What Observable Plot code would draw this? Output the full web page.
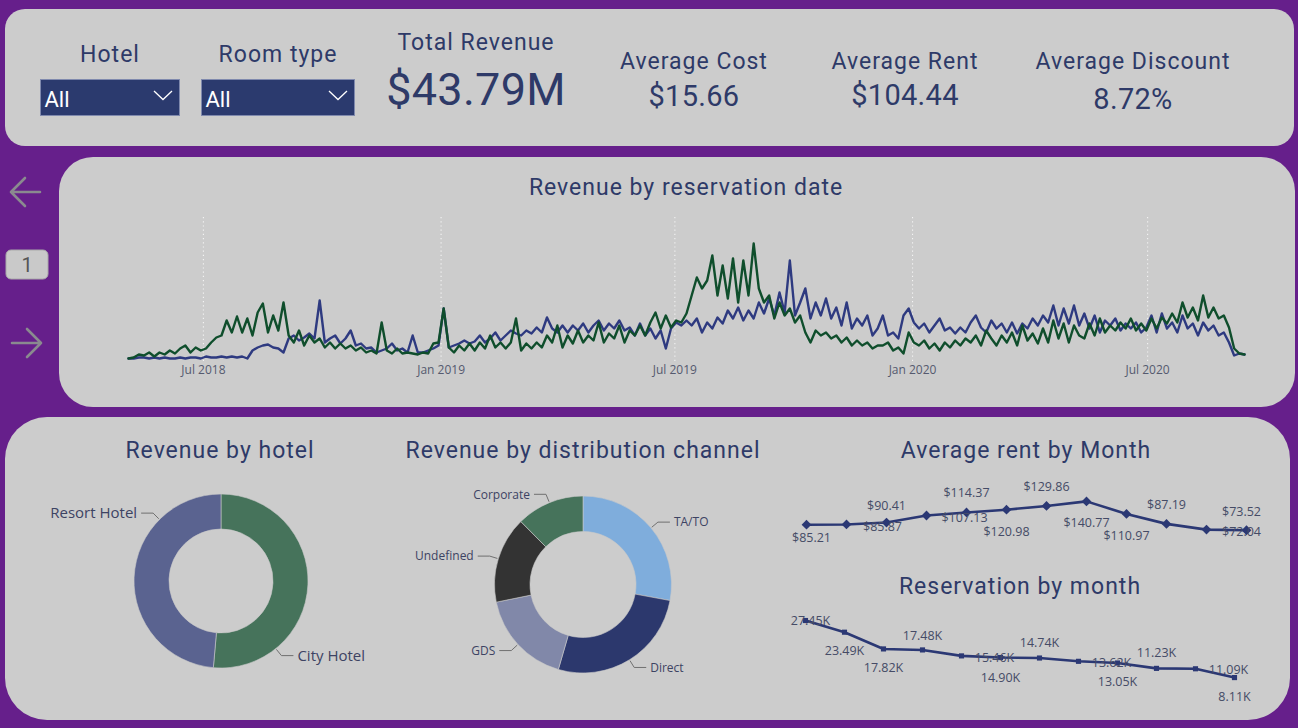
<!DOCTYPE html>
<html><head><meta charset="utf-8">
<script src="https://cdn.jsdelivr.net/npm/d3@7"></script>
<script src="https://cdn.jsdelivr.net/npm/@observablehq/plot@0.6"></script>
<style>
html,body{margin:0;padding:0;background:#661f8b;width:1298px;height:728px;overflow:hidden;font-family:Roboto,"Noto Sans",sans-serif;}
#root{position:relative;width:1298px;height:728px;}
#root svg{overflow:visible;}
</style></head>
<body><div id="root"></div>
<script>
// ================= DATA =================
const slicerNames = ["Hotel", "Room type"];
const slicerSelections = ["All", "All"];
const kpiNames = ["Total Revenue", "Average Cost", "Average Rent", "Average Discount"];
const kpiValues = ["$43.79M", "$15.66", "$104.44", "8.72%"];

const chartTitles = ["Revenue by reservation date", "Revenue by hotel", "Revenue by distribution channel", "Average rent by Month", "Reservation by month"];

// daily revenue (K$), sampled every 4 days from 2018-05-04
const seriesNames = ["Resort Hotel", "City Hotel"];
const seriesStart = "2018-05-04";
const seriesStepDays = 4;
const resortRevenueK = [
 4,4,5,5,4,5,4,5,4,4, 5,4,5,5,4,6,5,5,6,5, 6,5,6,4,12,15,17,18,15,14,
 10,24,27,22,25,29,24,62,20,24, 27,19,24,32,17,19,14,15,10,12, 14,19,12,14,10,27,10,10,12,14,
 17,54,15,17,19,22,19,21,27,20, 24,30,22,
 27,32,29,27,32,29,35,30,45,34, 30,37,30,37,32,39,30,37,42,32, 39,34,42,32,35,27,39,27,34,24,
 32,14,34,40,37,42,37,44,30,40, 34,45,39,52,44,55,42,52,44,60, 49,64,47,70,50,102,47,60,74,44,
 60,47,64,44,55,37,60,34,44,37, 47,27,34,
 47,27,30,24,47,54,40,34,39,30, 37,44,32,35,29,35,30,40,47,35, 30,42,34,39,30,40,29,39,34,44,
 37,47,40,57,37,54,39,57,37,49, 34,47,30,42,37,44,32,39,34,40, 30,35,47,30,49,34,40,30,47,34,
 39,27,40,32,37,27,30,20,7,9, 8
];
const cityRevenueK = [
 4,5,8,7,10,6,10,8,12,9, 14,17,10,15,12,14,20,25,27,42, 30,46,30,44,27,50,59,30,47,32,
 60,27,20,32,17,27,20,24,15,20, 14,19,14,17,12,15,10,12,9,40, 12,9,14,9,10,9,8,10,9,19,
 20,54,15,10,17,12,19,12,20,14, 27,15,20,
 14,20,44,12,19,14,20,15,27,20, 37,15,27,19,32,20,27,22,40,20, 29,24,37,20,32,27,37,27,40,50,
 34,47,35,42,40,49,67,85,74,82, 107,67,97,64,104,60,102,67,119,74, 60,67,44,60,47,54,40,47,30,20,
 32,27,30,24,27,20,25,17,22,17, 20,14,17,
 17,20,12,15,9,30,20,17,22,14, 19,12,20,15,22,17,24,20,27,17, 32,24,17,27,20,30,17,37,22,29,
 19,34,20,42,24,39,20,37,27,24, 39,27,44,30,37,32,40,34,44,32, 39,32,44,34,45,39,49,40,60,45,
 55,42,67,45,55,44,47,35,14,9, 8
];
const axisTickDates = ["2018-07-01", "2019-01-01", "2019-07-01", "2020-01-01", "2020-07-01"];
const axisTickLabels = ["Jul 2018", "Jan 2019", "Jul 2019", "Jan 2020", "Jul 2020"];

const hotelNames = ["City Hotel", "Resort Hotel"];
const hotelRevenueM = [22.51, 21.28];

const channelNames = ["TA/TO", "Direct", "GDS", "Undefined", "Corporate"];
const channelRevenueM = [12.22, 11.65, 7.58, 6.92, 5.43];

const months = ["Jan","Feb","Mar","Apr","May","Jun","Jul","Aug","Sep","Oct","Nov","Dec"];
const avgRent = [85.21, 85.87, 90.41, 107.13, 114.37, 120.98, 129.86, 140.77, 110.97, 87.19, 73.52, 72.04];
const reservationsK = [27.45, 23.49, 17.82, 17.48, 15.46, 14.90, 14.74, 13.62, 13.05, 11.23, 11.09, 8.11];

// ================= STYLE / LAYOUT =================
const C = {purple:"#661f8b", panel:"#cccccc", ink:"#2e3a68", label:"#454b66", axis:"#555a6f",
  navy:"#2b3874", resortLine:"#2e3a80", cityLine:"#0f4e2c"};
const hotelColors = ["#46735b", "#5a6390"];
const channelColors = ["#7faddc", "#2c386d", "#8188a9", "#333333", "#46735b"];
const hotelLabelAngles = [141, 315];
const rentLabelNudge = [[5,13],[36,3],[0,-17],[38,2],[0,-19],[0,22],[0,-19],[0,22],[0,22],[0,-19],[35,-18],[-5,2]];
const resLabelNudge  = [[5,0],[0,19],[0,19],[0,-14],[33,2],[0,20],[0,-15],[33,2],[0,19],[0,-15],[33,1],[0,19]];
const titleFont = "font-size:23px;letter-spacing:1px;color:"+C.ink+";";

const root = document.getElementById("root");
function box(x,y,w,h,css){const d=document.createElement("div");d.style.cssText=`position:absolute;left:${x}px;top:${y}px;width:${w}px;height:${h}px;box-sizing:border-box;${css||""}`;root.appendChild(d);return d;}
function label(text,cx,cy,css){const d=document.createElement("div");d.textContent=text;d.style.cssText=`position:absolute;left:${cx}px;top:${cy}px;transform:translate(-50%,-50%);white-space:nowrap;line-height:1;${css||""}`;root.appendChild(d);return d;}
function place(node,x,y){node.style.position="absolute";node.style.left=x+"px";node.style.top=y+"px";root.appendChild(node);return node;}

// panels
box(5,9,1289,137,`background:${C.panel};border-radius:20px;`);
box(59,157,1236,250,`background:${C.panel};border-radius:34px;`);
box(5,417,1285,303,`background:${C.panel};border-radius:42px;`);

// left navigation (decoration)
const nav = document.createElementNS("http://www.w3.org/2000/svg","svg");
nav.setAttribute("width","56");nav.setAttribute("height","200");
nav.innerHTML = `<g fill="none" stroke="#8a8a8f" stroke-width="2.6" stroke-linecap="round">
 <path d="M11 42 H40 M11 42 L25 28 M11 42 L25 56"/>
 <path d="M12 193 H41 M41 193 L27 179 M41 193 L27 207"/></g>
 <rect x="6" y="100" width="42" height="29" rx="5" fill="#c9c9c9" stroke="#a9a9a9"/>
 <text x="27" y="115" dy="0.35em" text-anchor="middle" font-size="20" fill="#555" font-family="Roboto">1</text>`;
place(nav,0,150);

// slicers
const slicerPos = [[110,40,180],[278,201,355]];
slicerNames.forEach((n,i)=>{
  const [cx,x0,x1] = slicerPos[i];
  label(n,cx,54,titleFont);
  box(x0,79,x1-x0,37,`background:#2b3a6e;border:1.5px solid #7f89ad;`);
  label(slicerSelections[i],x0+17,100,"font-size:22px;color:#fff;");
  const ch = document.createElementNS("http://www.w3.org/2000/svg","svg");
  ch.setAttribute("width","24");ch.setAttribute("height","14");
  ch.innerHTML = `<path d="M3 3 L12 11.5 L21 3" fill="none" stroke="#fff" stroke-width="1.3"/>`;
  place(ch,x1-29,88);
});

// KPIs
const kpiPos = [[476,42,89,"font-size:45px;"],[694,61,96,"font-size:29px;"],[905,61,95,"font-size:29px;"],[1133,61,99,"font-size:29px;"]];
kpiNames.forEach((n,i)=>{
  const [cx,ty,vy,vs] = kpiPos[i];
  label(n,cx,ty,titleFont);
  label(kpiValues[i],cx,vy,`color:${C.ink};letter-spacing:0.3px;${vs}`);
});

// titles
const titlePos = [[686,187],[220,450],[583,450],[1026,450],[1020,586]];
chartTitles.forEach((t,i)=>label(t,titlePos[i][0],titlePos[i][1],titleFont));

// ================= TIME SERIES =================
const start = d3.utcParse("%Y-%m-%d")(seriesStart);
const dates = cityRevenueK.map((_,i)=>d3.utcDay.offset(start, seriesStepDays*i));
const tsData = dates.flatMap((d,i)=>[
  {date:d, value:resortRevenueK[i], hotel:seriesNames[0]},
  {date:d, value:cityRevenueK[i], hotel:seriesNames[1]}]);
const ticks = axisTickDates.map(d3.utcParse("%Y-%m-%d"));
const tickText = new Map(ticks.map((t,i)=>[+t, axisTickLabels[i]]));
const ts = Plot.plot({
  width:1235, height:190, marginLeft:68, marginRight:51, marginTop:17, marginBottom:28,
  style:{background:"transparent", fontFamily:"'Open Sans',Roboto,sans-serif", fontSize:"12px", color:C.axis, overflow:"visible"},
  x:{type:"utc", domain:[start, d3.utcDay.offset(start, 864)], ticks, tickFormat:d=>tickText.get(+d), tickSize:0, tickPadding:3, label:null},
  y:{domain:[0,145], axis:null},
  color:{domain:seriesNames, range:[C.resortLine, C.cityLine]},
  marks:[
    Plot.ruleX(ticks,{stroke:"#f4f4f4", strokeDasharray:"1.2,3", strokeWidth:1.1}),
    Plot.lineY(tsData,{x:"date", y:"value", z:"hotel", stroke:"hotel", strokeWidth:2.4, strokeLinejoin:"round"})
  ]
});
place(ts,60,200);

// ================= DONUTS =================
function donut({names, values, colors, width, height, cx, cy, R, r, labelAngles, fontSize}){
  const rows = names.map((name,i)=>({name, value:values[i]}));
  const arcs = d3.pie().sort(null).value(d=>d.value)(rows);
  return Plot.plot({
    width, height, marginLeft:cx-R, marginRight:width-cx-R, marginTop:cy-R, marginBottom:height-cy-R,
    x:{domain:[-1,1], axis:null}, y:{domain:[-1,1], axis:null},
    color:{domain:names, range:colors},
    style:{background:"transparent", overflow:"visible"},
    marks:[
      Plot.dot(rows,{x:()=>0, y:()=>0, fill:"name", r:0}),
      (index, scales) => {
        const x0 = scales.x(0), y0 = scales.y(0), Rp = scales.x(1)-x0, rp = Rp*r/R;
        const g = d3.create("svg:g");
        const arc = d3.arc().innerRadius(rp).outerRadius(Rp);
        g.append("g").attr("transform",`translate(${x0},${y0})`)
          .selectAll("path").data(arcs).join("path")
          .attr("d",arc).attr("fill",d=>scales.color(d.data.name))
          .attr("stroke","#c9c9c9").attr("stroke-width",0.6);
        arcs.forEach((a,i)=>{
          const deg = labelAngles ? labelAngles[i] : (a.startAngle+a.endAngle)/2*180/Math.PI;
          const t = deg*Math.PI/180, sx = Math.sin(t), sy = -Math.cos(t);
          const p0 = [x0+(Rp+1)*sx, y0+(Rp+1)*sy], p1 = [x0+(Rp+9)*sx, y0+(Rp+9)*sy];
          const right = sx >= 0, p2 = [p1[0]+(right?12:-12), p1[1]];
          g.append("path").attr("d",`M${p0}L${p1}L${p2}`).attr("fill","none").attr("stroke","#707070").attr("stroke-width",1);
          g.append("text").attr("x",p2[0]+(right?4:-4)).attr("y",p2[1]).attr("dy","0.35em")
            .attr("text-anchor",right?"start":"end").attr("font-size",fontSize)
            .attr("font-family","'Open Sans',Roboto,sans-serif").attr("fill","#3d4363").text(a.data.name);
        });
        return g.node();
      }
    ]
  });
}
place(donut({names:hotelNames, values:hotelRevenueM, colors:hotelColors, width:400, height:230, cx:201, cy:111, R:87, r:52, labelAngles:hotelLabelAngles, fontSize:15}), 20, 470);
place(donut({names:channelNames, values:channelRevenueM, colors:channelColors, width:370, height:230, cx:183, cy:114.5, R:88.5, r:53, labelAngles:null, fontSize:12}), 400, 470);

// ================= SMALL LINE CHARTS =================
function monthLine({values, fmt, nudge, symbol, r, yMax, width, height, mt, mb, ml, mr}){
  const rows = months.map((m,i)=>({month:m, value:values[i], i}));
  const labelMarks = rows.map((d,i)=>Plot.text([d],{x:"month", y:"value", text:e=>fmt(e.value), dx:nudge[i][0], dy:nudge[i][1],
    fill:C.label, fontSize:12.5, fontFamily:"'Open Sans',Roboto,sans-serif"}));
  return Plot.plot({
    width, height, marginTop:mt, marginBottom:mb, marginLeft:ml, marginRight:mr,
    x:{type:"point", domain:months, axis:null, padding:0},
    y:{domain:[0,yMax], axis:null},
    style:{background:"transparent", overflow:"visible"},
    marks:[
      Plot.line(rows,{x:"month", y:"value", stroke:C.navy, strokeWidth:2.6}),
      Plot.dot(rows,{x:"month", y:"value", symbol, r, fill:C.navy, stroke:"none"}),
      ...labelMarks
    ]
  });
}
place(monthLine({values:avgRent, fmt:v=>"$"+v.toFixed(2), nudge:rentLabelNudge, symbol:"diamond2", r:4.4, yMax:150,
  width:500, height:90, mt:17, mb:10, ml:23, mr:32}), 780, 480);
place(monthLine({values:reservationsK, fmt:v=>v.toFixed(2)+"K", nudge:resLabelNudge, symbol:"square", r:2.9, yMax:30,
  width:500, height:110, mt:12.5, mb:9, ml:23, mr:44}), 780, 600);
</script>
</body></html>
